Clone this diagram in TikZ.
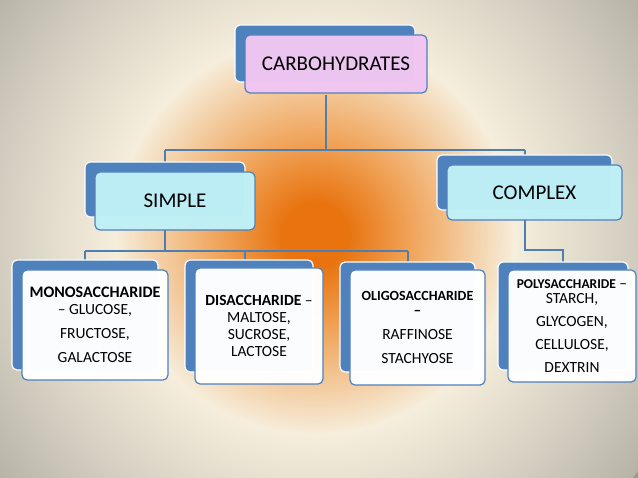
\documentclass[tikz,border=0pt]{standalone}
\usepackage{fontspec}
\setmainfont{Carlito}
\definecolor{orA}{HTML}{E8730F}
\definecolor{orB}{HTML}{F0A45A}
\definecolor{cream}{HTML}{F6EEDC}
\definecolor{beige}{HTML}{D6D1C3}
\definecolor{greyE}{HTML}{9C9A8E}
\definecolor{bk}{HTML}{4F81BD}
\definecolor{cyanF}{HTML}{BFF0F7}
\definecolor{pinkF}{HTML}{F0C6F2}
\definecolor{ln}{HTML}{4F7FAF}
\pgfdeclareradialshading{bgshade}{\pgfpoint{0bp}{0bp}}{color(0bp)=(orA); color(2bp)=(orA); color(6bp)=(orB); color(12.5bp)=(cream); color(19bp)=(beige); color(30bp)=(greyE); color(50bp)=(greyE)}
\tikzset{
 back/.style={draw=white, line width=1.2pt, fill=bk, rounded corners=5pt},
 front/.style={draw=bk, line width=1.2pt, fill=#1, fill opacity=0.98, draw opacity=1, text opacity=1, rounded corners=5pt, inner sep=0pt},
 conn/.style={draw=ln, line width=1.3pt},
}
\begin{document}
\begin{tikzpicture}[x=1pt,y=-1pt]
\useasboundingbox (0,0) rectangle (638,478);
\fill[greyE] (0,0) rectangle (638,478);
\begin{scope}
\clip (0,0) rectangle (638,478);
\shade[shading=bgshade] (315,235) circle (400);
\end{scope}
% connectors
\coordinate (j1) at (326,150);
\coordinate (j2) at (165,251);
\coordinate (j3) at (525,250);
\draw[conn] (326,95) -- (j1) (165,150) -- (525,150) (165,150) -- (165,165) (525,150) -- (525,158);
\draw[conn] (165,230) -- (j2) (85,251) -- (408,251) (85,251)--(85,262) (245,251)--(245,262) (408,251)--(408,264);
\draw[conn] (525,220) -- (j3) -- (563,250) -- (563,264);
% boxes
\path[back] (235,25) rectangle (415,82);
\node[front=pinkF, minimum width=182pt, minimum height=58pt, font=\fontsize{21}{24}\selectfont] (carb) at (336,64) {CARBOHYDRATES};
\path[back] (85,162) rectangle (245,217);
\node[front=cyanF, minimum width=160pt, minimum height=58pt, font=\fontsize{21}{24}\selectfont] (simple) at (175,201) {SIMPLE};
\path[back] (437,155) rectangle (612,210);
\node[front=cyanF, minimum width=175pt, minimum height=55pt, font=\fontsize{21}{24}\selectfont] (complex) at (534.5,192.5) {COMPLEX};
\path[back] (12,260) rectangle (158,370);
\node[front=white, minimum width=146pt, minimum height=110pt, align=center, font=\fontsize{15.5}{24}\selectfont] (mono) at (95,325) {\textbf{\fontsize{16}{17}\selectfont MONOSACCHARIDE}\\[-7pt] -- GLUCOSE,\\ FRUCTOSE,\\ GALACTOSE};
\path[back] (185,260) rectangle (313,372);
\node[front=white, minimum width=128pt, minimum height=116pt, align=center, font=\fontsize{15.5}{17}\selectfont] (di) at (259,326) {\textbf{DISACCHARIDE} --\\ MALTOSE,\\ SUCROSE,\\ LACTOSE};
\path[back] (340,262) rectangle (475,372);
\node[front=white, minimum width=135pt, minimum height=115pt, align=center, font=\fontsize{15.5}{24}\selectfont] (oligo) at (417.5,327.5) {\textbf{\fontsize{14}{15}\selectfont OLIGOSACCHARIDE}\\[-9pt] \textbf{--}\\ RAFFINOSE\\ STACHYOSE};
\path[back] (498,262) rectangle (628,370);
\node[front=white, minimum width=128pt, minimum height=112pt, align=center, font=\fontsize{15.5}{23}\selectfont] (poly) at (572,326) {\textbf{\fontsize{13.5}{14}\selectfont POLYSACCHARIDE} --\\[-8pt] STARCH,\\ GLYCOGEN,\\ CELLULOSE,\\ DEXTRIN};
\end{tikzpicture}
\end{document}
